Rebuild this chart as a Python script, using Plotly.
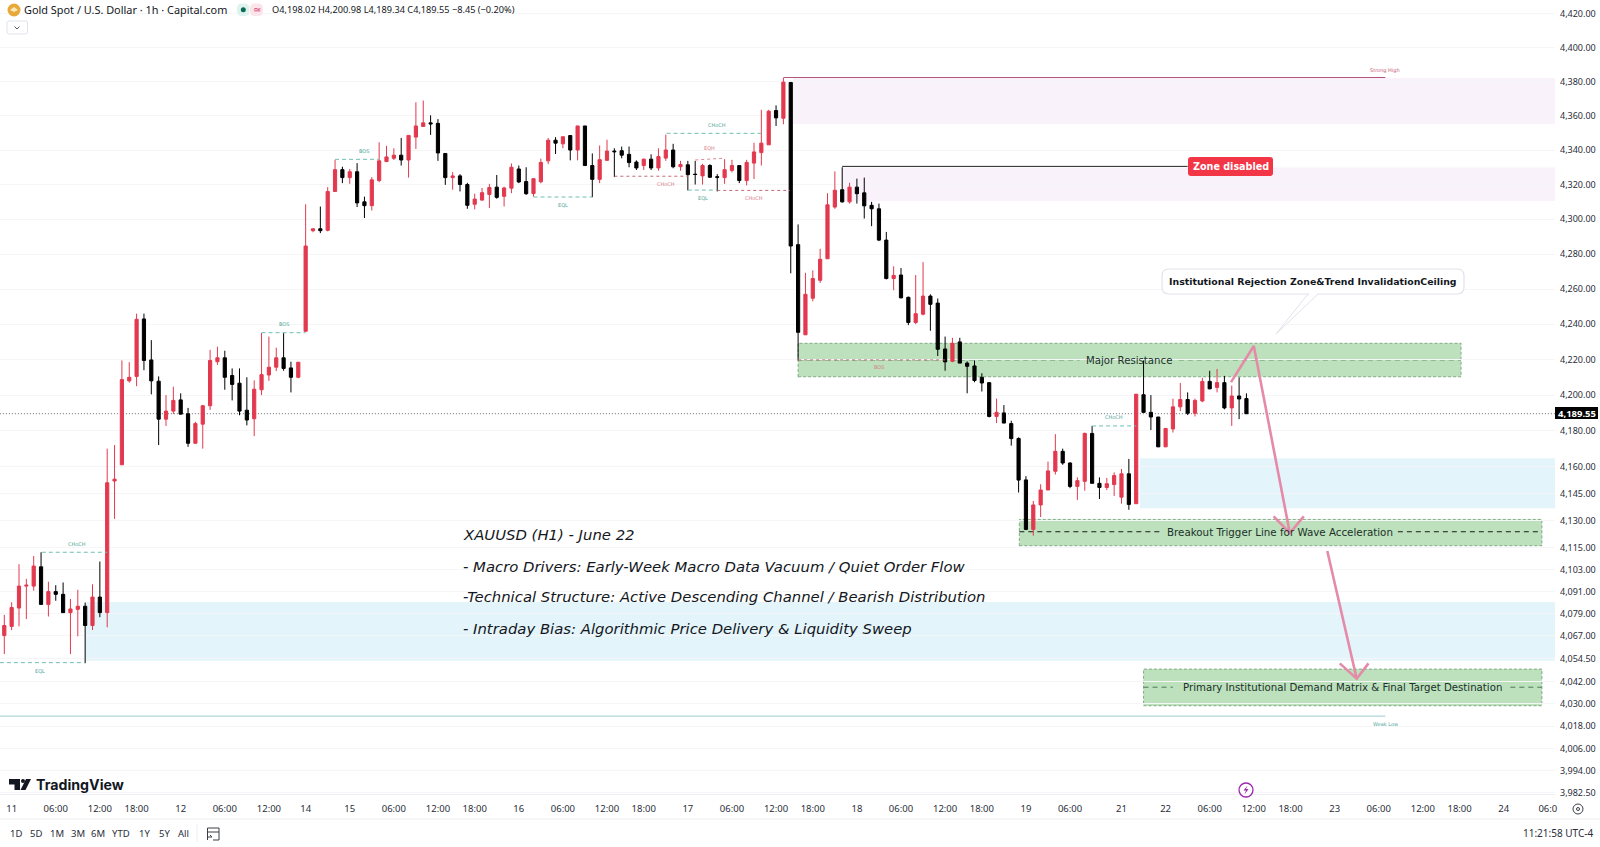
import math
import plotly.graph_objects as go

# hourly candles, x is just the bar number (the axis skips the 17:00 break)
opens = [
    4067, 4072, 4082, 4094, 4094, 4104.6, 4084, 4091, 4089.5, 4079.5,
    4081.3, 4083, 4072.5, 4088, 4079.5, 4152, 4161, 4208, 4210.5, 4243,
    4219.8, 4207.8, 4186.5, 4191, 4197.3, 4189.5, 4173, 4183.7, 4194, 4218.8,
    4221, 4211, 4206.7, 4191.5, 4186.7, 4203, 4211.3, 4215.7, 4221, 4215.3,
    4210, 4236, 4293.4, 4294.5, 4293.6, 4316, 4328.6, 4324, 4327.4, 4310,
    4307.8, 4322.3, 4333.3, 4335.2, 4337, 4334.2, 4347.5, 4353.7, 4355.8, 4355.5,
    4338, 4324, 4325, 4320, 4308.6, 4311, 4314.3, 4318.5, 4313.2, 4317.9,
    4329, 4321.7, 4314.8, 4321.6, 4333.7, 4345.7, 4343.6, 4348.4, 4340, 4354,
    4331, 4323, 4334, 4339.4, 4339.6, 4337.5, 4333, 4331, 4334.7, 4329.6,
    4335.3, 4340, 4330.3, 4331.4, 4326, 4325, 4331, 4324.5, 4324, 4328.2,
    4331, 4322.3, 4332.4, 4338.5, 4343, 4363, 4358.5, 4379.4, 4285.4, 4234,
    4254.8, 4265, 4277.3, 4307, 4317, 4310, 4318.5, 4315.2, 4308, 4306,
    4288, 4266, 4268, 4255.3, 4241, 4245.7, 4256, 4252, 4226, 4219,
    4230, 4218, 4216.4, 4210, 4207, 4188, 4190, 4184, 4175.7, 4152.6,
    4125.2, 4138.7, 4147, 4157.4, 4168.5, 4162, 4149, 4151.8, 4178.5, 4150.7,
    4148.4, 4150, 4143, 4156, 4139.4, 4200.2, 4190.3, 4187.7, 4171, 4181,
    4193.4, 4197.5, 4189.8, 4196.7, 4207.7, 4204.3, 4207, 4192.8, 4199.5, 4198.02,
]
highs = [
    4078.3, 4085.2, 4106, 4098, 4110.5, 4112.6, 4096.4, 4094.5, 4096, 4087,
    4092, 4085, 4095, 4107.5, 4170, 4172, 4219.5, 4218.5, 4246, 4246,
    4231, 4210.5, 4200, 4204.7, 4201, 4192.8, 4185, 4194.5, 4225.5, 4227.3,
    4225, 4215, 4215, 4210, 4208.3, 4235, 4233, 4226.7, 4235, 4218.8,
    4218.5, 4308.6, 4294.8, 4307.3, 4318.5, 4334.3, 4330.3, 4329, 4332.4, 4313,
    4324.3, 4344.5, 4342.4, 4341, 4347, 4348.5, 4367.8, 4368.8, 4360.2, 4358,
    4338, 4327.2, 4326, 4321, 4314.7, 4318, 4320.4, 4325.5, 4318.8, 4332.2,
    4331, 4330, 4323.4, 4335, 4347, 4347.5, 4348, 4348.4, 4354, 4354,
    4338, 4342.6, 4346, 4341, 4342, 4342, 4334, 4335, 4337.5, 4341,
    4349, 4343.6, 4333.7, 4333.7, 4333.7, 4332, 4331.8, 4326, 4334.7, 4334.3,
    4331, 4334.3, 4344.2, 4363.4, 4363.4, 4366, 4382, 4379.4, 4297, 4269.3,
    4270.7, 4283, 4315, 4327.6, 4330, 4321, 4323.4, 4324, 4310, 4309,
    4292.7, 4273, 4272, 4255.7, 4268, 4275.4, 4257, 4254.6, 4233, 4232.3,
    4232.3, 4219, 4219.5, 4212.3, 4207.2, 4198, 4194.4, 4185.6, 4176.3, 4154.7,
    4140.9, 4150.2, 4162.8, 4178.1, 4170, 4162.4, 4154, 4179, 4182.7, 4154,
    4153.7, 4156.8, 4158.7, 4164.3, 4200.5, 4219.5, 4200, 4187.7, 4181.5, 4198,
    4206.8, 4201.5, 4198, 4209.8, 4213.7, 4214.7, 4210.8, 4205.3, 4210, 4200.98,
]
lows = [
    4057, 4070, 4072, 4076, 4091.5, 4084, 4077.4, 4086, 4079.5, 4057,
    4066.6, 4052, 4070, 4077, 4071.5, 4131, 4161, 4207, 4205, 4214,
    4200.4, 4172, 4182.7, 4189.3, 4189.3, 4171, 4173, 4170, 4191.7, 4217,
    4203, 4197, 4188.7, 4183, 4177, 4200, 4208, 4213.5, 4213.7, 4201.5,
    4209.5, 4236, 4292.5, 4292, 4293, 4316, 4320.8, 4320.4, 4307, 4300.7,
    4305, 4321.3, 4333, 4334.2, 4331, 4324, 4340.6, 4353.4, 4348.8, 4333.7,
    4319.8, 4317, 4316, 4306, 4305.7, 4310.7, 4306.4, 4311.8, 4307.3, 4315,
    4320.8, 4314, 4313, 4320.7, 4331.8, 4337.7, 4341, 4334, 4334, 4331,
    4312.7, 4320.8, 4333.7, 4324.3, 4335.2, 4330, 4328.4, 4328.4, 4328.4, 4328,
    4333.7, 4329.4, 4328, 4316.6, 4320, 4320, 4323.8, 4316, 4320.4, 4327,
    4320.8, 4319.5, 4323.2, 4331, 4343, 4354, 4355, 4269, 4219.5, 4234,
    4253, 4263.5, 4277.3, 4306, 4309.5, 4309, 4309, 4300.4, 4296, 4287.4,
    4265.5, 4259.3, 4254.7, 4239.5, 4240, 4245, 4236.3, 4222, 4213.7, 4218.5,
    4218, 4201, 4207.2, 4202, 4187.5, 4184.3, 4184.3, 4171.7, 4145.6, 4124.8,
    4121.7, 4132, 4147, 4155.6, 4161, 4148, 4141.5, 4146.6, 4150.7, 4142,
    4147, 4143.7, 4139.4, 4136, 4139.4, 4190, 4180.4, 4171, 4171, 4179,
    4191, 4188.8, 4188, 4196, 4203.3, 4201.5, 4192, 4182.7, 4186.5, 4189.34,
]
closes = [
    4072.5, 4082.3, 4094, 4094.5, 4105, 4084, 4091, 4089.5, 4079.5, 4081.5,
    4083, 4072.5, 4088, 4079.5, 4151, 4153, 4208.7, 4210, 4242.8, 4219.5,
    4208, 4186.5, 4191, 4197, 4189.3, 4173, 4184, 4194, 4219.5, 4221,
    4210, 4206, 4191, 4186, 4203.3, 4211.5, 4215.7, 4221, 4215, 4210,
    4218.5, 4284.6, 4294.5, 4293.4, 4316, 4328.6, 4324, 4327.4, 4309.4, 4307.8,
    4322.7, 4333.7, 4336, 4337, 4334.2, 4348.5, 4354, 4355.8, 4355.2, 4338.3,
    4324, 4325, 4320, 4308, 4311.6, 4315.3, 4318.3, 4312.6, 4318, 4330,
    4321.5, 4314.7, 4323.4, 4332.8, 4345.7, 4344, 4347.7, 4340, 4354, 4331,
    4323, 4334.4, 4339.4, 4339, 4337, 4332.7, 4329.6, 4334.7, 4329.6, 4336.2,
    4340, 4330.3, 4331.6, 4325.7, 4325.8, 4331, 4324.2, 4324.2, 4328.6, 4331,
    4322.3, 4332.8, 4338.9, 4344, 4362.6, 4358.7, 4379.6, 4284.6, 4235.4, 4257,
    4266, 4277, 4308.3, 4316.7, 4310, 4318.5, 4314.7, 4307.7, 4306, 4288,
    4266, 4267.8, 4255, 4241, 4246, 4256, 4251.3, 4225.8, 4218.7, 4229.2,
    4218, 4216.2, 4208.2, 4206.8, 4188, 4190.3, 4184.3, 4175.6, 4152.5, 4125.2,
    4138.7, 4147, 4157.6, 4168.5, 4162, 4149, 4152.2, 4178.5, 4150.7, 4148.4,
    4150.5, 4155, 4156, 4139, 4200.5, 4190.3, 4187.7, 4171, 4181.3, 4193.4,
    4197.5, 4189.8, 4197, 4207.7, 4203.5, 4207, 4192.8, 4199.5, 4197.8, 4189.55,
]
bars = list(range(len(closes)))

# axis ticks
price_ticks = [4420, 4400, 4380, 4360, 4340, 4320, 4300, 4280, 4260, 4240, 4220, 4200, 4180, 4160,
               4145, 4130, 4115, 4103, 4091, 4079, 4067, 4054.5, 4042, 4030, 4018, 4006, 3994, 3982.5]
time_ticks = [1, 7, 13, 18, 24, 30, 36, 41, 47, 53, 59, 64, 70, 76, 82, 87, 93, 99, 105, 110, 116, 122,
              128, 133, 139, 145, 152, 158, 164, 170, 175, 181, 187, 193, 198, 204, 210]
time_labels = ["11", "06:00", "12:00", "18:00", "12", "06:00", "12:00", "14", "15", "06:00", "12:00", "18:00",
               "16", "06:00", "12:00", "18:00", "17", "06:00", "12:00", "18:00", "18", "06:00", "12:00", "18:00",
               "19", "06:00", "21", "22", "06:00", "12:00", "18:00", "23", "06:00", "12:00", "18:00", "24", "06:0"]
last_price = 4189.55

# zones: first bar, last bar, top price, bottom price
right_edge = 210.98
purple_zones = [(107.3, right_edge, 4382.0, 4355.1), (114.0, right_edge, 4329.9, 4310.5)]
blue_zones = [(11.0, right_edge, 4085.3, 4053.3), (154.5, right_edge, 4164.7, 4136.9)]
green_zones = [(108.0, 198.2, 4229.2, 4210.3), (138.1, 209.2, 4130.7, 4116.2), (155.0, 209.2, 4048.8, 4029.0)]

# structure levels: first bar, last bar, price, label, label bar, label price
teal_levels = [
    (5.1, 14, 4112.6, "CHoCH", 9.9, 4117.3),
    (-0.6, 11, 4052.3, "EQL", 4.9, 4048.0),
    (35, 41, 4235.2, "BOS", 38, 4240.3),
    (45, 51, 4334.6, "BOS", 49, 4339.5),
    (72, 80, 4312.8, "EQL", 76, 4308.2),
    (90.1, 103, 4349.7, "CHoCH", 97, 4354.7),
    (93, 97, 4316.8, "EQL", 95, 4312.2),
    (148, 154, 4182.7, "CHoCH", 151, 4187.7),
]
red_levels = [
    (83, 93, 4324.8, "CHoCH", 90, 4320.2),
    (97, 106.9, 4316.6, "CHoCH", 102, 4312.2),
    (108, 128, 4219.8, "BOS", 119, 4215.6),
]
strong_high = 4382.3
weak_low = 4023.4
zone_disabled = 4330.5

# hand drawn projection arrows
arrow_bars = [166.9, 170.0, 174.9]
arrow_prices = [4207.3, 4227.7, 4123.2]
head1_bars = [172.7, 174.9, 176.8]
head1_prices = [4132.4, 4123.2, 4132.4]
arrow2_bars = [180.0, 184.0]
arrow2_prices = [4113.3, 4043.6]
head2_bars = [181.7, 184.0, 185.6]
head2_prices = [4051.9, 4043.6, 4051.9]

notes = ["XAUUSD (H1) - June 22",
         "- Macro Drivers: Early-Week Macro Data Vacuum / Quiet Order Flow",
         "-Technical Structure: Active Descending Channel / Bearish Distribution",
         "- Intraday Bias: Algorithmic Price Delivery & Liquidity Sweep"]
note_prices = [4122.0, 4104.3, 4087.8, 4070.8]
ranges = ["1D", "5D", "1M", "3M", "6M", "YTD", "1Y", "5Y", "All"]
range_x = [16, 36, 57, 77.5, 98, 121, 144, 164, 183]

PLOT_W = 1555
PLOT_H = 794
RED = "#e2394f"
INK = "#131722"
UI = "Noto Sans"
DRAW = "DejaVu Sans"


def fx(px):
    return px / PLOT_W


def fy(py):
    return 1 - py / PLOT_H


def box_path(x0, y0, x1, y1, r):
    a, b, c, d = fx(x0), fy(y0), fx(x1), fy(y1)
    rx, ry = r / PLOT_W, r / PLOT_H
    return (f"M {a+rx} {b} L {c-rx} {b} Q {c} {b} {c} {b-ry} L {c} {d+ry} Q {c} {d} {c-rx} {d} "
            f"L {a+rx} {d} Q {a} {d} {a} {d+ry} L {a} {b-ry} Q {a} {b} {a+rx} {b} Z")


def poly_path(points):
    return "M " + " L ".join(f"{fx(x)} {fy(y)}" for x, y in points) + " Z"


def open_path(points):
    return "M " + " L ".join(f"{fx(x)} {fy(y)}" for x, y in points)


fig = go.Figure()
fig.add_trace(go.Candlestick(
    x=bars, open=opens, high=highs, low=lows, close=closes,
    increasing=dict(line=dict(color=RED, width=1), fillcolor=RED),
    decreasing=dict(line=dict(color="#000000", width=1), fillcolor="#000000"),
    whiskerwidth=0, showlegend=False,
))

# pink projection
for xs, ys in [(arrow_bars, arrow_prices), (head1_bars, head1_prices),
               (arrow2_bars, arrow2_prices), (head2_bars, head2_prices)]:
    fig.add_trace(go.Scatter(x=xs, y=ys, mode="lines", line=dict(color="#e58aa8", width=2.6),
                             hoverinfo="skip", showlegend=False))

for x0, x1, top, bottom in purple_zones:
    fig.add_shape(type="rect", x0=x0, x1=x1, y0=bottom, y1=top, fillcolor="#f9f2fb", line_width=0, layer="below")
for x0, x1, top, bottom in blue_zones:
    fig.add_shape(type="rect", x0=x0, x1=x1, y0=bottom, y1=top, fillcolor="#e3f4fb", line_width=0, layer="below")
for x0, x1, top, bottom in green_zones:
    fig.add_shape(type="rect", x0=x0, x1=x1, y0=bottom, y1=top, fillcolor="#bce1bc", layer="below",
                  line=dict(color="#6d9a74", width=0.8, dash="3px,2px"))

# dashed middle of each green box, broken where the text sits
mid_lines = [(108.0, 146.3, 4219.8, "#55855f"), (159.8, 198.2, 4219.8, "#55855f"),
             (138.1, 157.4, 4123.9, "#1c1c1c"), (189.6, 209.2, 4123.9, "#1c1c1c"),
             (155.0, 159.0, 4039.0, "#4d7a55"), (204.9, 209.2, 4039.0, "#4d7a55")]
for x0, x1, p, colour in mid_lines:
    fig.add_shape(type="line", x0=x0, x1=x1, y0=p, y1=p, line=dict(color=colour, width=1, dash="5px,4px"), layer="below")

fig.add_shape(type="line", x0=-0.6, x1=right_edge, y0=last_price, y1=last_price,
              line=dict(color="#666b76", width=1, dash="1px,2px"), layer="below")
fig.add_shape(type="line", x0=106, x1=187.9, y0=strong_high, y1=strong_high, line=dict(color="#b0567a", width=1))
fig.add_shape(type="line", x0=-0.6, x1=187.9, y0=weak_low, y1=weak_low, line=dict(color="#9ccfd0", width=1))
fig.add_shape(type="line", x0=114, x1=161, y0=zone_disabled, y1=zone_disabled, line=dict(color="#222222", width=1))
fig.add_shape(type="line", x0=94, x1=98, y0=4334.2, y1=4335.3, line=dict(color="#d98a94", width=1, dash="dot"))

labels = []
for x0, x1, p, text, lx, lp in teal_levels:
    fig.add_shape(type="line", x0=x0, x1=x1, y0=p, y1=p, line=dict(color="#6fbfb0", width=1, dash="4px,3px"))
    labels.append((lx, lp, text, "#4fa89a"))
for x0, x1, p, text, lx, lp in red_levels:
    fig.add_shape(type="line", x0=x0, x1=x1, y0=p, y1=p, line=dict(color="#c46a76", width=1, dash="3px,3px"))
    labels.append((lx, lp, text, "#d9808c"))
labels.append((96, 4341.0, "EQH", "#d9808c"))
labels.append((187.9, 4386.2, "Strong High", "#c65c7a"))
labels.append((187.9, 4019.2, "Weak Low", "#4fa89a"))


def data_text(bar, price, text, size, colour, family=DRAW, anchor="center"):
    fig.add_annotation(x=bar, y=math.log10(price), text=text, showarrow=False, xanchor=anchor, yanchor="middle",
                       font=dict(size=size, color=colour, family=family))


def page_text(px, py, text, size, colour, family=UI, anchor="left"):
    fig.add_annotation(xref="paper", yref="paper", x=fx(px), y=fy(py), text=text, showarrow=False,
                       xanchor=anchor, yanchor="middle", font=dict(size=size, color=colour, family=family))


for lx, lp, text, colour in labels:
    data_text(lx, lp, text, 5, colour)

data_text(153, 4219.5, "Major Resistance", 10.2, "#20302a")
data_text(173.6, 4123.9, "Breakout Trigger Line for Wave Acceleration", 10.3, "#20302a")
data_text(182.05, 4039.0, "Primary Institutional Demand Matrix & Final Target Destination", 10.2, "#20302a")

for text, p in zip(notes, note_prices):
    data_text(62.1, p, f"<i>{text}</i>", 14.85, INK, anchor="left")

# "Zone disabled" tag and the callout box
fig.add_shape(type="path", xref="paper", yref="paper", path=box_path(1188, 157, 1273, 176, 3),
              fillcolor="#f23645", line_width=0)
page_text(1230.5, 166.5, "<b>Zone disabled</b>", 9.6, "#ffffff", DRAW, "center")
fig.add_shape(type="path", xref="paper", yref="paper", path=poly_path([(1308, 294), (1276, 334), (1318, 294)]),
              fillcolor="#ffffff", line=dict(color="#e0e3eb", width=1))
fig.add_shape(type="path", xref="paper", yref="paper", path=box_path(1162, 269, 1464, 294, 7),
              fillcolor="#ffffff", line=dict(color="#e0e3eb", width=1.2))
fig.add_shape(type="line", xref="paper", yref="paper", x0=fx(1309), x1=fx(1317), y0=fy(294), y1=fy(294),
              line=dict(color="#ffffff", width=2))
page_text(1313, 281.5, "<b>Institutional Rejection Zone&amp;Trend InvalidationCeiling</b>", 9.4, INK, DRAW, "center")

# header
fig.add_shape(type="circle", xref="paper", yref="paper", x0=fx(7.5), x1=fx(20.5), y0=fy(3.5), y1=fy(16.5),
              fillcolor="#e8a93b", line_width=0)
fig.add_shape(type="path", xref="paper", yref="paper", path=poly_path([(10, 10), (14, 7), (18, 10), (14, 12)]),
              fillcolor="#fbe7b8", line_width=0)
page_text(22, 10, "Gold Spot / U.S. Dollar · 1h · Capital.com", 10.9, INK)
fig.add_shape(type="path", xref="paper", yref="paper", path=box_path(237, 3.5, 249.5, 16, 5),
              fillcolor="#dff3ee", line_width=0)
fig.add_shape(type="circle", xref="paper", yref="paper", x0=fx(240.8), x1=fx(245.8), y0=fy(7.2), y1=fy(12.2),
              fillcolor="#0c6b58", line_width=0)
fig.add_shape(type="path", xref="paper", yref="paper", path=box_path(250, 3.5, 263, 16, 5),
              fillcolor="#fbe4ea", line_width=0)
page_text(256.5, 9.5, "≃", 10, "#d6336c", UI, "center")
page_text(270, 10, "O4,198.02 H4,200.98 L4,189.34 C4,189.55 −8.45 (−0.20%)", 9.2, INK)
fig.add_shape(type="path", xref="paper", yref="paper", path=box_path(7, 21, 27.5, 34, 2),
              fillcolor="#ffffff", line=dict(color="#e0e3eb", width=1))
fig.add_shape(type="path", xref="paper", yref="paper", path=open_path([(14.5, 26.5), (17, 29), (19.5, 26.5)]),
              line=dict(color="#555a66", width=1))

# current price tag
fig.add_shape(type="rect", xref="paper", yref="paper", x0=fx(1555), x1=fx(1598), y0=fy(407), y1=fy(419),
              fillcolor="#000000", line_width=0)
page_text(1576.5, 413, "<b>4,189.55</b>", 9.5, "#ffffff", UI, "center")

# TradingView mark
fig.add_shape(type="path", xref="paper", yref="paper",
              path=poly_path([(9, 779), (20, 779), (20, 790), (14.5, 790), (14.5, 784.5), (9, 784.5)]),
              fillcolor="#131722", line_width=0)
fig.add_shape(type="path", xref="paper", yref="paper", path=poly_path([(26, 779), (31, 779), (25.5, 790), (20.5, 790)]),
              fillcolor="#131722", line_width=0)
fig.add_shape(type="circle", xref="paper", yref="paper", x0=fx(21), x1=fx(25), y0=fy(779), y1=fy(783),
              fillcolor="#131722", line_width=0)
page_text(33.5, 784, "<b>TradingView</b>", 14.2, INK, "Inter")

# lightning button on the time axis
fig.add_shape(type="circle", xref="paper", yref="paper", x0=fx(1239), x1=fx(1253), y0=fy(783), y1=fy(797),
              fillcolor="#ffffff", line=dict(color="#9c27b0", width=1.3))
fig.add_shape(type="path", xref="paper", yref="paper",
              path=poly_path([(1247.5, 785.5), (1243.5, 790.5), (1246, 790.5), (1244.5, 794.5), (1248.5, 789), (1246, 789)]),
              fillcolor="#9c27b0", line_width=0)

# bottom bar
fig.add_shape(type="line", xref="paper", yref="paper", x0=0, x1=fx(1600), y0=fy(819), y1=fy(819),
              line=dict(color="#eceef2", width=1))
fig.add_shape(type="line", xref="paper", yref="paper", x0=fx(197), x1=fx(197), y0=fy(824), y1=fy(842),
              line=dict(color="#eceef2", width=1))
fig.add_shape(type="path", xref="paper", yref="paper",
              path=open_path([(207.5, 840), (207.5, 828), (219, 828), (219, 840), (213, 840)]),
              line=dict(color="#3c3f47", width=1))
fig.add_shape(type="path", xref="paper", yref="paper", path=open_path([(207.5, 832), (219, 832)]),
              line=dict(color="#3c3f47", width=1))
fig.add_shape(type="path", xref="paper", yref="paper", path=open_path([(207, 837), (212, 837), (210, 835)]),
              line=dict(color="#3c3f47", width=1))
for text, px in zip(ranges, range_x):
    page_text(px, 833, text, 9.5, "#2a2e39", UI, "center")
page_text(1595, 833, "11:21:58 UTC-4", 10, "#2a2e39", UI, "right")

# settings gear at the axis corner
fig.add_shape(type="circle", xref="paper", yref="paper", x0=fx(1573), x1=fx(1583), y0=fy(804), y1=fy(814),
              fillcolor="#ffffff", line=dict(color="#3c3f47", width=1))
fig.add_shape(type="circle", xref="paper", yref="paper", x0=fx(1576.5), x1=fx(1579.5), y0=fy(807.5), y1=fy(810.5),
              fillcolor="#ffffff", line=dict(color="#3c3f47", width=1))

low_end = 4420 * math.exp(-780.5 * 1.338e-4)
high_end = 4420 * math.exp(13.5 * 1.338e-4)
fig.update_layout(
    width=1600, height=847, margin=dict(l=0, r=45, t=0, b=53),
    paper_bgcolor="#ffffff", plot_bgcolor="#ffffff", template=None, showlegend=False, boxgap=0.38,
    xaxis=dict(range=[-0.585, right_edge], rangeslider=dict(visible=False), showgrid=False, zeroline=False,
               tickmode="array", tickvals=time_ticks, ticktext=time_labels, ticks="", ticklabelstandoff=6,
               tickfont=dict(size=9.5, color="#2a2e39", family=UI), tickangle=0,
               showline=True, linecolor="#eceef2", linewidth=1, fixedrange=True),
    yaxis=dict(type="log", range=[math.log10(low_end), math.log10(high_end)], side="right",
               tickmode="array", tickvals=price_ticks, ticktext=[f"{p:,.2f}" for p in price_ticks],
               ticks="", ticklabelstandoff=4, showgrid=True, gridcolor="#f6f6f8", gridwidth=1, zeroline=False,
               tickfont=dict(size=9, color="#2a2e39", family=UI), showline=False, fixedrange=True),
)

fig.write_html("out.html", config={"displayModeBar": False},
               post_script="document.body.style.margin='0';document.body.style.overflow='hidden';")
